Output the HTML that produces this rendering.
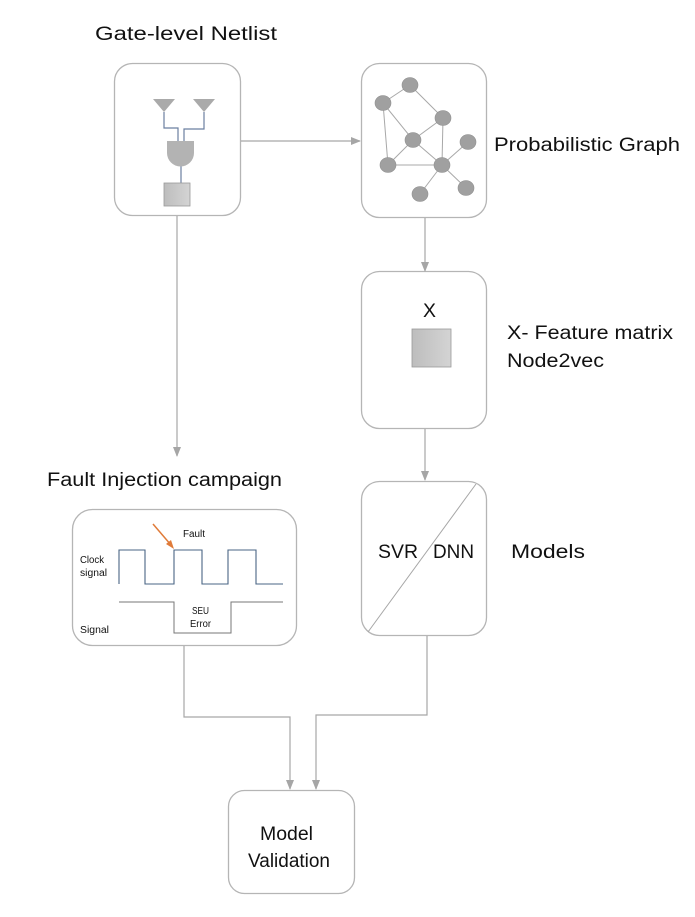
<!DOCTYPE html>
<html><head><meta charset="utf-8"><style>
body{margin:0;background:#fff}
svg text{font-family:"Liberation Sans",sans-serif;fill:#111}
</style></head><body>
<svg width="695" height="912" xmlns="http://www.w3.org/2000/svg">
<defs>
<marker id="ar" markerWidth="10" markerHeight="10" refX="9" refY="5" orient="auto" markerUnits="userSpaceOnUse"><path d="M0,1 L10,5 L0,9 Z" fill="#a6a6a6"/></marker>
<linearGradient id="g" x1="0" x2="1"><stop offset="0" stop-color="#bdbdbd"/><stop offset="1" stop-color="#d4d4d4"/></linearGradient>
</defs>
<g fill="none" stroke="#b5b5b5" stroke-width="1.3">
<rect x="114.5" y="63.5" width="126" height="152" rx="18"/>
<rect x="361.5" y="63.5" width="125" height="154" rx="18"/>
<rect x="361.5" y="271.5" width="125" height="157" rx="18"/>
<rect x="361.5" y="481.5" width="125" height="154" rx="18"/>
<rect x="72.5" y="509.5" width="224" height="136" rx="20"/>
<rect x="228.5" y="790.5" width="126" height="103" rx="16"/>
</g>
<g stroke="#a6a6a6" stroke-width="1.2" fill="none">
<line x1="241" y1="141" x2="360" y2="141" marker-end="url(#ar)"/>
<line x1="425" y1="218" x2="425" y2="271" marker-end="url(#ar)"/>
<line x1="425" y1="429" x2="425" y2="480" marker-end="url(#ar)"/>
<line x1="177" y1="216" x2="177" y2="456" marker-end="url(#ar)"/>
<polyline points="184,646 184,717 290,717 290,789" marker-end="url(#ar)"/>
<polyline points="427,636 427,715 316,715 316,789" marker-end="url(#ar)"/>
<line x1="368" y1="632" x2="476" y2="484" stroke-width="1"/>
</g>
<polygon points="153,99 175,99 164,112" fill="#aaa"/>
<polygon points="193,99 215,99 204,112" fill="#aaa"/>
<g stroke="#6b7fa0" stroke-width="1.2" fill="none">
<polyline points="164,112 164,128 178,128 178,141"/>
<polyline points="204,112 204,129 184,129 184,141"/>
<line x1="181" y1="166" x2="181" y2="183"/>
</g>
<path d="M167,141 H194 V153 A13.5,13.5 0 0 1 167,153 Z" fill="#b3b3b3"/>
<rect x="164" y="183" width="26" height="23" fill="url(#g)" stroke="#999" stroke-width="0.8"/>
<g stroke="#a8a8a8" stroke-width="1">
<line x1="410" y1="85" x2="383" y2="103"/><line x1="410" y1="85" x2="443" y2="118"/>
<line x1="383" y1="103" x2="413" y2="140"/><line x1="383" y1="103" x2="388" y2="165"/>
<line x1="443" y1="118" x2="413" y2="140"/><line x1="443" y1="118" x2="442" y2="165"/>
<line x1="413" y1="140" x2="388" y2="165"/><line x1="413" y1="140" x2="442" y2="165"/>
<line x1="388" y1="165" x2="442" y2="165"/><line x1="442" y1="165" x2="468" y2="142"/>
<line x1="442" y1="165" x2="466" y2="188"/><line x1="442" y1="165" x2="420" y2="194"/>
</g>
<g fill="#a0a0a0" stroke="#8f8f8f" stroke-width="0.6">
<ellipse cx="410" cy="85" rx="8" ry="7.5"/><ellipse cx="383" cy="103" rx="8" ry="7.5"/>
<ellipse cx="443" cy="118" rx="8" ry="7.5"/><ellipse cx="413" cy="140" rx="8" ry="7.5"/>
<ellipse cx="468" cy="142" rx="8" ry="7.5"/><ellipse cx="388" cy="165" rx="8" ry="7.5"/>
<ellipse cx="442" cy="165" rx="8" ry="7.5"/><ellipse cx="466" cy="188" rx="8" ry="7.5"/>
<ellipse cx="420" cy="194" rx="8" ry="7.5"/>
</g>
<rect x="412" y="329" width="39" height="38" fill="url(#g)" stroke="#999" stroke-width="0.8"/>
<polyline points="119,584 119,550 145,550 145,584 174,584 174,550 202,550 202,584 228,584 228,550 256,550 256,584 283,584" fill="none" stroke="#4a6584" stroke-width="1.1"/>
<polyline points="119,602 174,602 174,633 231,633 231,602 283,602" fill="none" stroke="#777" stroke-width="1"/>
<line x1="153" y1="524" x2="171" y2="545" stroke="#e07b39" stroke-width="1.5"/>
<polygon points="174,549 166,544 171,540" fill="#e07b39"/>
<g lengthAdjust="spacingAndGlyphs">
<text x="95" y="40" font-size="19" textLength="182" lengthAdjust="spacingAndGlyphs">Gate-level Netlist</text>
<text x="494" y="151" font-size="19" textLength="186" lengthAdjust="spacingAndGlyphs">Probabilistic Graph</text>
<text x="423" y="317" font-size="19" textLength="13" lengthAdjust="spacingAndGlyphs">X</text>
<text x="507" y="339" font-size="19" textLength="166" lengthAdjust="spacingAndGlyphs">X- Feature matrix</text>
<text x="507" y="367" font-size="19" textLength="97" lengthAdjust="spacingAndGlyphs">Node2vec</text>
<text x="378" y="558" font-size="19" textLength="40" lengthAdjust="spacingAndGlyphs">SVR</text>
<text x="433" y="558" font-size="19" textLength="41" lengthAdjust="spacingAndGlyphs">DNN</text>
<text x="511" y="558" font-size="19" textLength="74" lengthAdjust="spacingAndGlyphs">Models</text>
<text x="47" y="486" font-size="19" textLength="235" lengthAdjust="spacingAndGlyphs">Fault Injection campaign</text>
<text x="183" y="537" font-size="10" textLength="22" lengthAdjust="spacingAndGlyphs">Fault</text>
<text x="80" y="563" font-size="10" textLength="24" lengthAdjust="spacingAndGlyphs">Clock</text>
<text x="80" y="576" font-size="10" textLength="27" lengthAdjust="spacingAndGlyphs">signal</text>
<text x="80" y="633" font-size="10" textLength="29" lengthAdjust="spacingAndGlyphs">Signal</text>
<text x="192" y="614" font-size="10" textLength="17" lengthAdjust="spacingAndGlyphs">SEU</text>
<text x="190" y="627" font-size="10" textLength="21" lengthAdjust="spacingAndGlyphs">Error</text>
<text x="260" y="840" font-size="19" textLength="53" lengthAdjust="spacingAndGlyphs">Model</text>
<text x="248" y="867" font-size="19" textLength="82" lengthAdjust="spacingAndGlyphs">Validation</text>
</g>
</svg>
</body></html>
